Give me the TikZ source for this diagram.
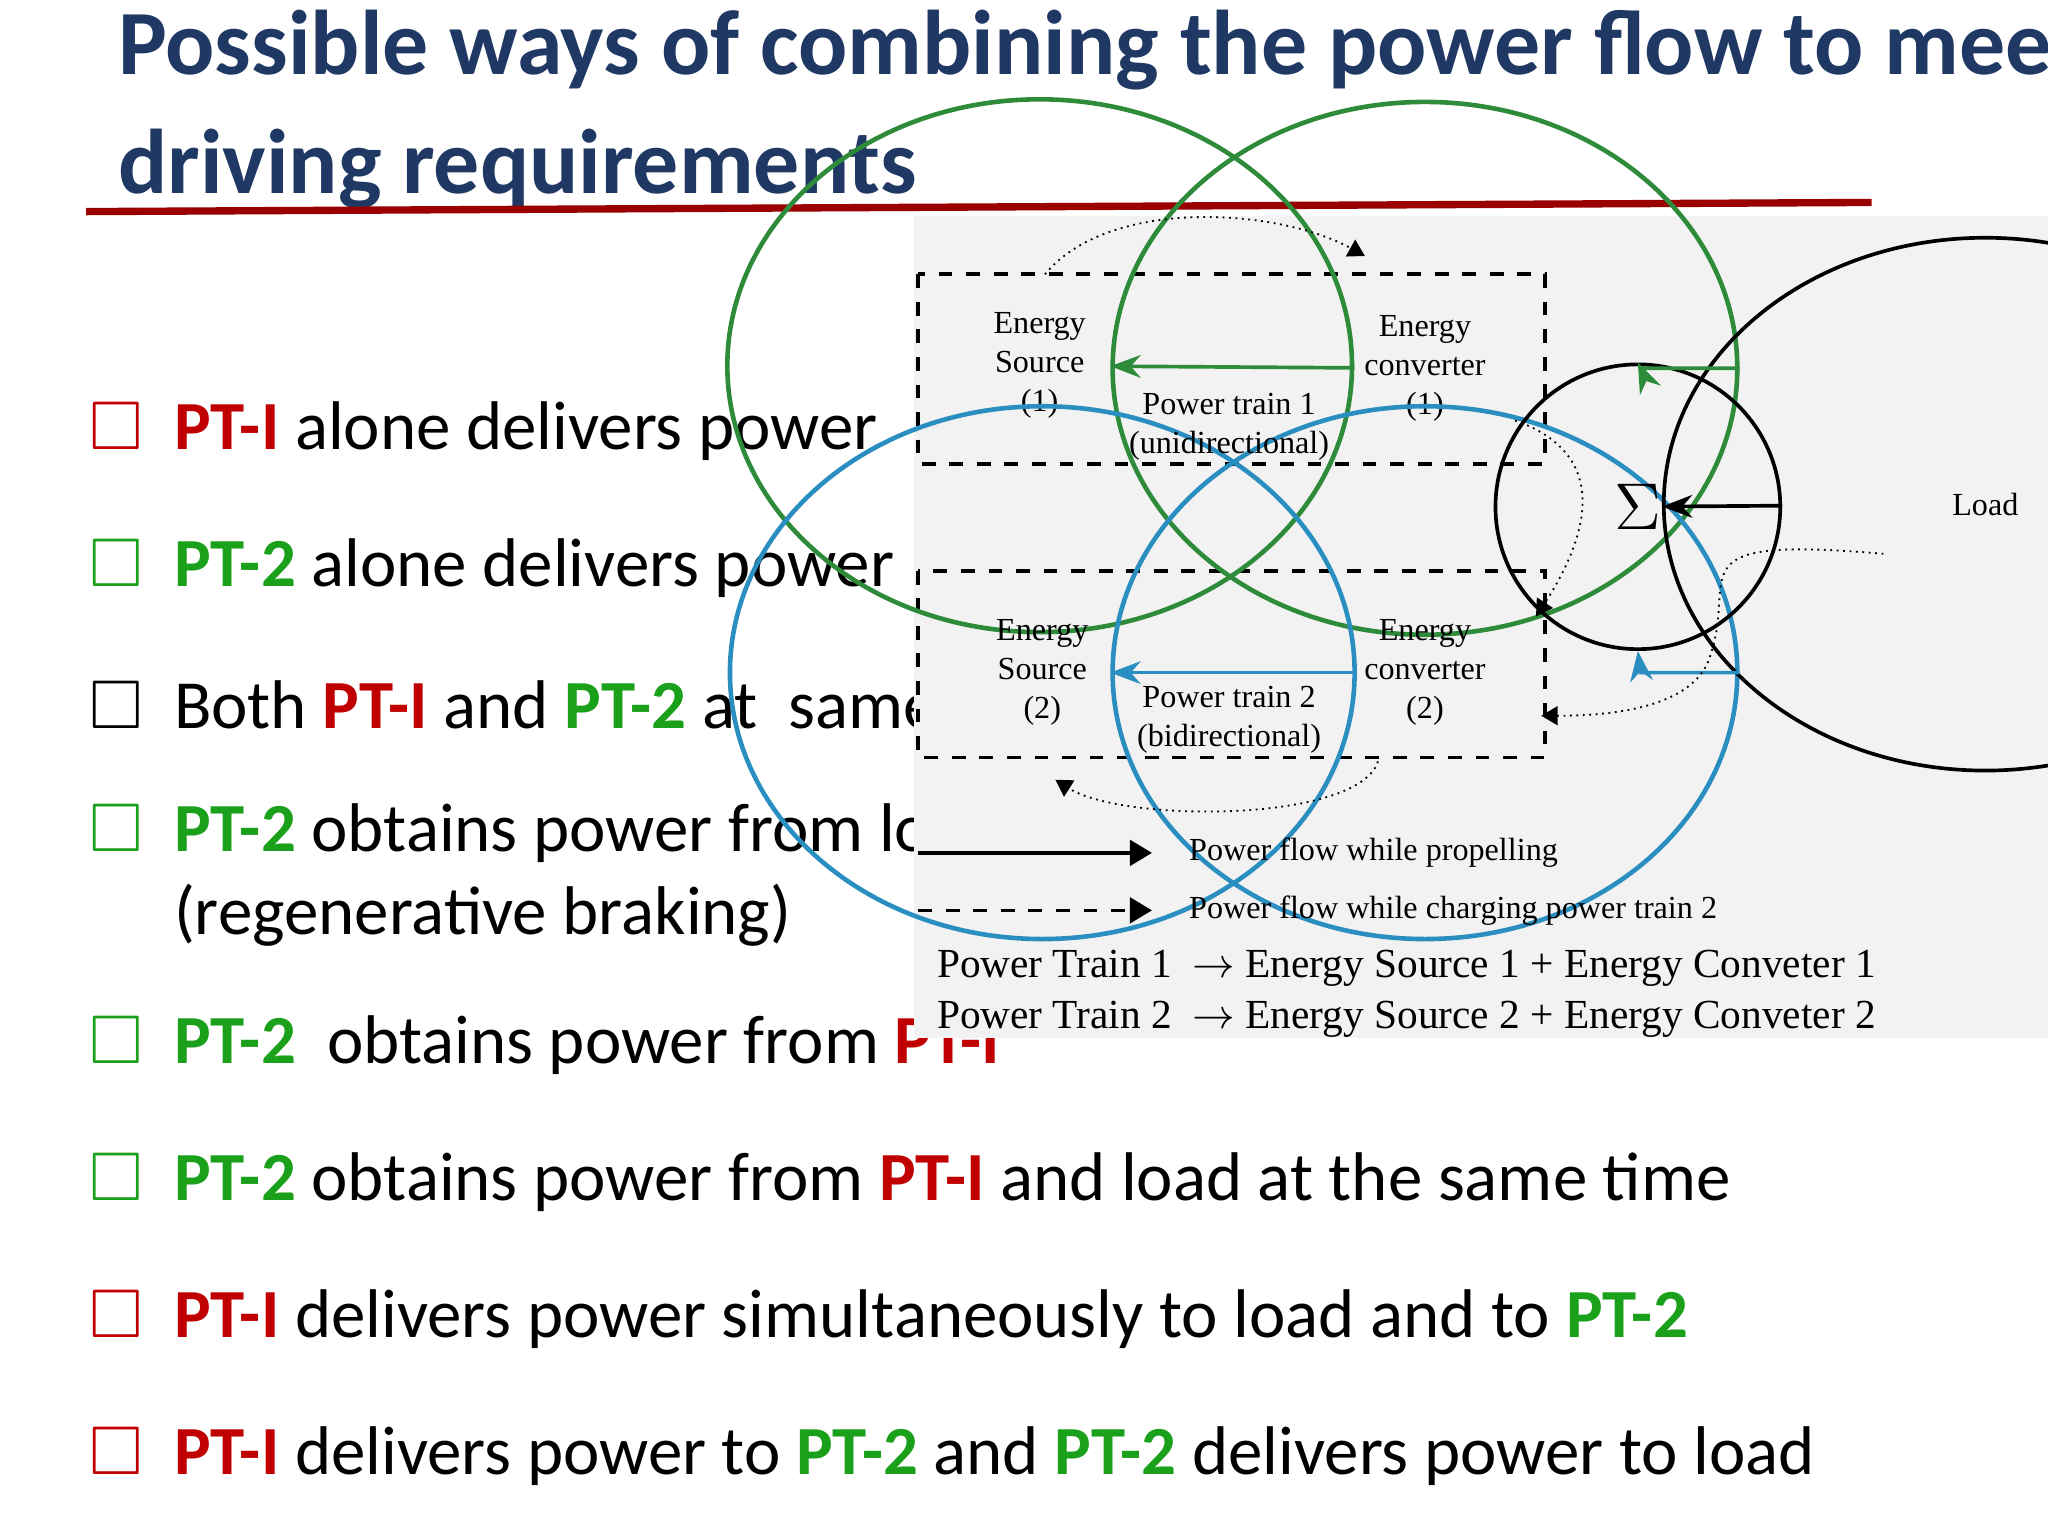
\documentclass[tikz,border=0pt]{standalone}
\usepackage{amsmath,amssymb}
\usepackage{fontspec}
\setmainfont{Carlito}
\newfontfamily\diag{Liberation Serif}
\usetikzlibrary{positioning,shapes.geometric,arrows.meta}
\definecolor{ttl}{HTML}{1F3864}
\definecolor{ptr}{HTML}{C00000}
\definecolor{ptg}{HTML}{1AA01A}
\definecolor{cgreen}{HTML}{2E8B3A}
\definecolor{cblue}{HTML}{2A8FC0}
\newcommand{\ptone}{\textcolor{ptr}{\textbf{PT-I}}}
\newcommand{\pttwo}{\textcolor{ptg}{\textbf{PT-2}}}
\newcommand{\boxr}{\textcolor{ptr}{$\square$}}
\newcommand{\boxg}{\textcolor{ptg}{$\square$}}
\newcommand{\boxk}{$\square$}
\begin{document}
\begin{tikzpicture}[x=0.01cm,y=-0.01cm,
  bul/.style={anchor=west,font=\fontsize{15}{18}\selectfont,align=left},
  src/.style={ellipse,draw,line width=1pt,minimum width=136,minimum height=116,font=\diag\fontsize{7}{8.5}\selectfont,align=center},
  lbl/.style={font=\diag\fontsize{7}{8.5}\selectfont,align=center},
  dbox/.style={draw,dashed,thick},
  dots/.style={densely dotted,-Triangle}]
\useasboundingbox (0,0) rectangle (1568,1176);
% title
\node[anchor=west,font=\fontsize{20}{26}\selectfont\bfseries,text=ttl,align=left] (title) at (78,84)
  {Possible ways of combining the power flow to meet the\\driving requirements};
\draw[ptr!80!black,line width=1.6pt] (66,162) -- (1433,155);
% bullets
\node[bul] (b1) at (56,330) {\boxr\ \ \ptone\ alone delivers power};
\node[bul] (b2) at (56,435) {\boxg\ \ \pttwo\ alone delivers power};
\node[bul] (b3) at (56,540) {\boxk\ \ Both \ptone\ and \pttwo\ at\ \ same time};
\node[bul] (b4) at (56,670) {\boxg\ \ \pttwo\ obtains power from load\\\phantom{\boxg\ \ }(regenerative braking)};
\node[bul] (b5) at (56,800) {\boxg\ \ \pttwo\ \ obtains power from \ptone};
\node[bul] (b6) at (56,905) {\boxg\ \ \pttwo\ obtains power from \ptone\ and load at the same time};
\node[bul] (b7) at (56,1010) {\boxr\ \ \ptone\ delivers power simultaneously to load and to \pttwo};
\node[bul] (b8) at (56,1115) {\boxr\ \ \ptone\ delivers power to \pttwo\ and \pttwo\ delivers power to load};
% diagram
\fill[black!5] (700,165) rectangle (1568,795);
\draw[dbox] (703,210) rectangle (1183,355);
\draw[dbox] (703,437) rectangle (1183,580);
\node[src,draw=cgreen] (es1) at (796,280) {Energy\\Source\\(1)};
\node[src,draw=cgreen] (ec1) at (1091,282) {Energy\\converter\\(1)};
\node[src,draw=cblue] (es2) at (798,515) {Energy\\Source\\(2)};
\node[src,draw=cblue] (ec2) at (1091,515) {Energy\\converter\\(2)};
\node[circle,draw,thick,minimum size=62,inner sep=0] (sum) at (1254,388) {\Large$\Sigma$};
\node[ellipse,draw,thick,minimum width=140,minimum height=116] (load) at (1520,386) {\diag\fontsize{7}{8}\selectfont Load};
\node[lbl] (pt1) at (941,327) {Power train 1\\(unidirectional)};
\node[lbl] (pt2) at (941,551) {Power train 2\\(bidirectional)};
\draw[cgreen,thick,-Stealth] (es1) -- (ec1);
\draw[cgreen,thick,-Stealth] (ec1.east) -- (1256,282) -- (sum.north);
\draw[cblue,thick,-Stealth] (es2) -- (ec2);
\draw[cblue,thick,-Stealth] (ec2.east) -- (1256,515) -- (sum.south);
\draw[thick,-Stealth] (sum) -- (load);
\coordinate (d1) at (800,210); \coordinate (d2) at (1045,196);
\draw[dots] (d1) .. controls (850,150) and (980,160) .. (d2);
\coordinate (d3) at (1160,322); \coordinate (d4) at (1176,472);
\draw[dots] (d3) .. controls (1240,350) and (1210,420) .. (d4);
\coordinate (d5) at (1442,424); \coordinate (d6) at (1180,548);
\draw[dots] (d5) .. controls (1280,410) and (1330,440) .. (1310,500) .. controls (1300,540) and (1240,548) .. (d6);
\coordinate (d7) at (1055,583); \coordinate (d8) at (808,597);
\draw[dots] (d7) .. controls (1040,630) and (860,630) .. (d8);
% legend
\coordinate (l1) at (703,653); \coordinate (l2) at (882,653);
\coordinate (l3) at (703,697); \coordinate (l4) at (882,697);
\draw[thick,-Triangle] (l1) -- (l2);
\draw[thick,dashed,-Triangle] (l3) -- (l4);
\node[lbl,anchor=west] (lg1) at (898,653) {Power flow while propelling};
\node[lbl,anchor=west] (lg2) at (898,697) {Power flow while charging power train 2};
\node[anchor=west,font=\diag\fontsize{9}{11}\selectfont,align=left] (defs) at (705,761)
  {Power Train 1 \ $\rightarrow$\ Energy Source 1 + Energy Conveter 1\\Power Train 2 \ $\rightarrow$\ Energy Source 2 + Energy Conveter 2};
\end{tikzpicture}
\end{document}
